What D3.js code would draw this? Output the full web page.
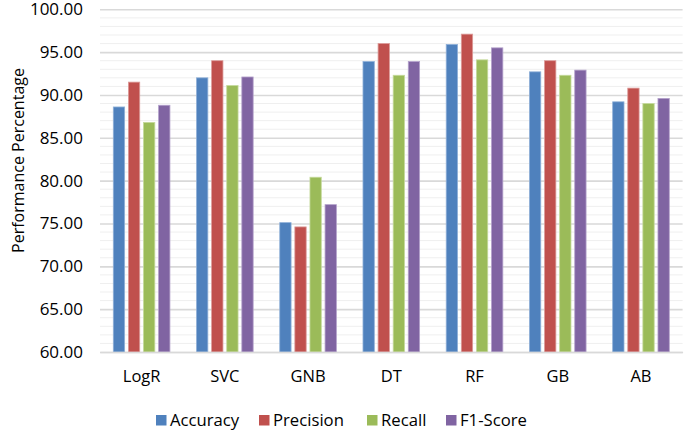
<!DOCTYPE html>
<html><head><meta charset="utf-8">
<script src="https://cdn.jsdelivr.net/npm/d3@7"></script>
<style>
html,body{margin:0;padding:0;background:#fff;}
text{font-family:"Open Sans",sans-serif;fill:#000;}
</style></head>
<body><svg id="c" width="685" height="431"></svg>
<script>
const categories = ["LogR","SVC","GNB","DT","RF","GB","AB"];
const seriesNames = ["Accuracy","Precision","Recall","F1-Score"];
const accuracy  = [88.6, 92.0, 75.1, 93.9, 95.9, 92.7, 89.2];
const precision = [91.5, 94.0, 74.6, 96.0, 97.1, 94.0, 90.8];
const recall    = [86.8, 91.1, 80.4, 92.3, 94.1, 92.3, 89.0];
const f1score   = [88.8, 92.1, 77.2, 93.9, 95.5, 92.9, 89.6];
const yTicks = [60,65,70,75,80,85,90,95,100];
const colors = ["#4F81BD","#C0504D","#9BBB59","#8064A2"];
const strokes = ["#8fb0d8","#dc9a98","#c5da9c","#b3a1cb"];

const seriesVals = [accuracy, precision, recall, f1score];
const svg = d3.select("#c");
const mLeft = 100, mRight = 682.6, mTop = 9.3, mBottom = 352;

const y = d3.scaleLinear().domain([60,100]).range([mBottom, mTop]);
const x0 = d3.scaleBand().domain(categories).range([mLeft, mRight]).padding(0);
const x1 = d3.scaleBand().domain(seriesNames).range([-30.2, 30.2]).paddingInner(0.25).paddingOuter(0.125);

// minor gridlines
const minor = d3.range(61,100).filter(v => v % 5 !== 0);
svg.append("g").selectAll("line").data(minor).join("line")
  .attr("x1", mLeft).attr("x2", mRight)
  .attr("y1", d => y(d)).attr("y2", d => y(d))
  .attr("stroke", "#efefef").attr("stroke-width", 1);

// major gridlines via axis
const yAxis = svg.append("g").attr("transform", `translate(${mLeft},0)`)
  .call(d3.axisLeft(y).tickValues(yTicks).tickFormat(d3.format(".2f")).tickSize(-(mRight-mLeft)).tickPadding(17));
yAxis.select(".domain").remove();
yAxis.selectAll(".tick line").attr("stroke", "#d9d9d9").attr("stroke-width", 1.6);
yAxis.selectAll(".tick text").attr("font-size", 17).attr("font-family", "Open Sans").attr("fill", "#000");

// bars
const groups = svg.append("g").selectAll("g").data(categories).join("g")
  .attr("transform", c => `translate(${x0(c) + x0.bandwidth()/2},0)`);
groups.selectAll("rect").data((c, i) => seriesNames.map((s, j) => ({s, j, v: seriesVals[j][i]})))
  .join("rect")
  .attr("x", d => x1(d.s)).attr("width", x1.bandwidth())
  .attr("y", d => y(d.v)).attr("height", d => y(60) - y(d.v))
  .attr("fill", d => colors[d.j]).attr("stroke", d => strokes[d.j]).attr("stroke-width", 0.8);

// x axis
const xAxis = svg.append("g").attr("transform", `translate(0,${mBottom})`)
  .call(d3.axisBottom(x0).tickSize(0).tickPadding(18));
xAxis.select(".domain").attr("stroke", "#d9d9d9").attr("stroke-width", 1.6);
xAxis.selectAll(".tick text").attr("font-size", 16.5).attr("font-family", "Open Sans").attr("fill", "#000");

// y title
svg.append("text").attr("transform", "translate(24,160.5) rotate(-90)")
  .attr("text-anchor", "middle").attr("font-size", 16).text("Performance Percentage");

// legend
const legX = [156, 259, 367, 446];
const leg = svg.append("g").selectAll("g").data(seriesNames).join("g")
  .attr("transform", (d, i) => `translate(${legX[i]},0)`);
leg.append("rect").attr("x", 0).attr("y", 415).attr("width", 10.5).attr("height", 10.5)
  .attr("fill", (d, i) => colors[i]);
leg.append("text").attr("x", 14).attr("y", 425.5).attr("font-size", 16.7).text(d => d);
</script></body></html>
